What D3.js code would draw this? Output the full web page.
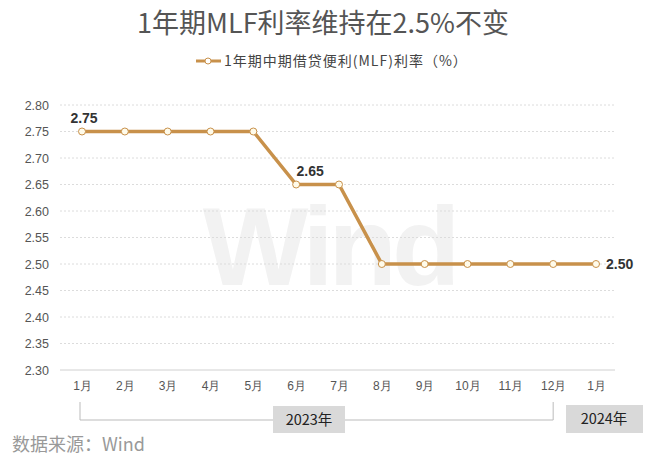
<!DOCTYPE html>
<html><head><meta charset="utf-8">
<script src="https://cdn.jsdelivr.net/npm/d3@7"></script>
<style>body{margin:0;background:#fff;font-family:"Microsoft YaHei","Noto Sans CJK SC","Noto Sans",sans-serif;}</style>
</head><body><svg id="c" width="646" height="468"></svg>
<script>
const months = ["1月","2月","3月","4月","5月","6月","7月","8月","9月","10月","11月","12月","1月"];
const values = [2.75,2.75,2.75,2.75,2.75,2.65,2.65,2.50,2.50,2.50,2.50,2.50,2.50];
const yTicks = [2.30,2.35,2.40,2.45,2.50,2.55,2.60,2.65,2.70,2.75,2.80];
const labelIdx = [0,5,12];
const years = ["2023年","2024年"];
const title = "1年期MLF利率维持在2.5%不变";
const seriesName = "1年期中期借贷便利(MLF)利率（%）";
const source = "数据来源：Wind";

const svg = d3.select("#c");
const col = "#c8914b";
const x = d3.scalePoint().domain(d3.range(months.length)).range([82, 596]);
const y = d3.scaleLinear().domain([2.30, 2.80]).range([370, 105]);

svg.append("text").attr("x", 323).attr("y", 33).attr("text-anchor","middle")
  .attr("font-size", 27).attr("fill","#555").text(title);

// legend
svg.append("line").attr("x1",196).attr("x2",221).attr("y1",61).attr("y2",61).attr("stroke",col).attr("stroke-width",3);
svg.append("circle").attr("cx",208).attr("cy",61).attr("r",3).attr("fill","#fff").attr("stroke",col);
svg.append("text").attr("x",224).attr("y",66).attr("font-size",14).attr("letter-spacing",1).attr("fill","#444").text(seriesName);

// watermark
svg.append("text").attr("x",329).attr("y",285).attr("text-anchor","middle")
  .attr("font-size",112).attr("font-weight","bold").attr("font-family","Arial, 'Liberation Sans', sans-serif")
  .attr("fill","#f2f2f2").attr("letter-spacing",-5).text("Wind");

// grid
yTicks.forEach(t => {
  svg.append("line").attr("x1",60).attr("x2",615).attr("y1",y(t)).attr("y2",y(t))
    .attr("stroke", t===2.30 ? "#d0d0d0" : "#dcdcdc")
    .attr("stroke-dasharray", t===2.30 ? null : "2,2");
});
const yAxis = d3.axisLeft(y).tickValues(yTicks).tickFormat(d3.format(".2f")).tickSize(0).tickPadding(0);
const gy = svg.append("g").attr("transform","translate(49,0)").call(yAxis);
gy.select(".domain").remove();
gy.selectAll("text").attr("font-size",12.5).attr("fill","#555").attr("font-family","Arial,'Liberation Sans',sans-serif");

const xAxis = d3.axisBottom(x).tickFormat(i => months[i]).tickSize(0).tickPadding(0);
const gx = svg.append("g").attr("transform","translate(0,381)").call(xAxis);
gx.select(".domain").remove();
gx.selectAll("text").attr("font-size",12).attr("fill","#555").attr("dy","0.71em");

// line
svg.append("path").datum(values)
  .attr("d", d3.line().x((d,i)=>x(i)).y(d=>y(d)))
  .attr("fill","none").attr("stroke",col).attr("stroke-width",3.5);
svg.selectAll("circle.pt").data(values).enter().append("circle").attr("class","pt")
  .attr("cx",(d,i)=>x(i)).attr("cy",d=>y(d)).attr("r",3.5)
  .attr("fill","#fffbea").attr("stroke",col).attr("stroke-width",1);

// labels
labelIdx.forEach(i => {
  const last = i === values.length-1;
  svg.append("text")
    .attr("x", last ? x(i)+10 : x(i)+ (i===0?2:14))
    .attr("y", last ? y(values[i])+5 : y(values[i])-9)
    .attr("text-anchor", last ? "start" : "middle")
    .attr("font-size",14).attr("font-weight","bold").attr("fill","#333")
    .attr("font-family","Arial,'Liberation Sans',sans-serif")
    .text(d3.format(".2f")(values[i]));
});

// year bracket
svg.append("path").attr("d",`M${x(0)-2},402V420H${x(11)}V402`).attr("fill","none").attr("stroke","#bbb");
svg.append("rect").attr("x",273).attr("y",406).attr("width",72).attr("height",27).attr("fill","#d9d9d9");
svg.append("text").attr("x",309).attr("y",425).attr("text-anchor","middle").attr("font-size",14.5).attr("fill","#222").text(years[0]);
svg.append("rect").attr("x",566).attr("y",405).attr("width",77).attr("height",28).attr("fill","#d9d9d9");
svg.append("text").attr("x",604).attr("y",424).attr("text-anchor","middle").attr("font-size",14.5).attr("fill","#222").text(years[1]);

svg.append("text").attr("x",12).attr("y",451).attr("font-size",18).attr("fill","#999").text(source);
</script></body></html>
